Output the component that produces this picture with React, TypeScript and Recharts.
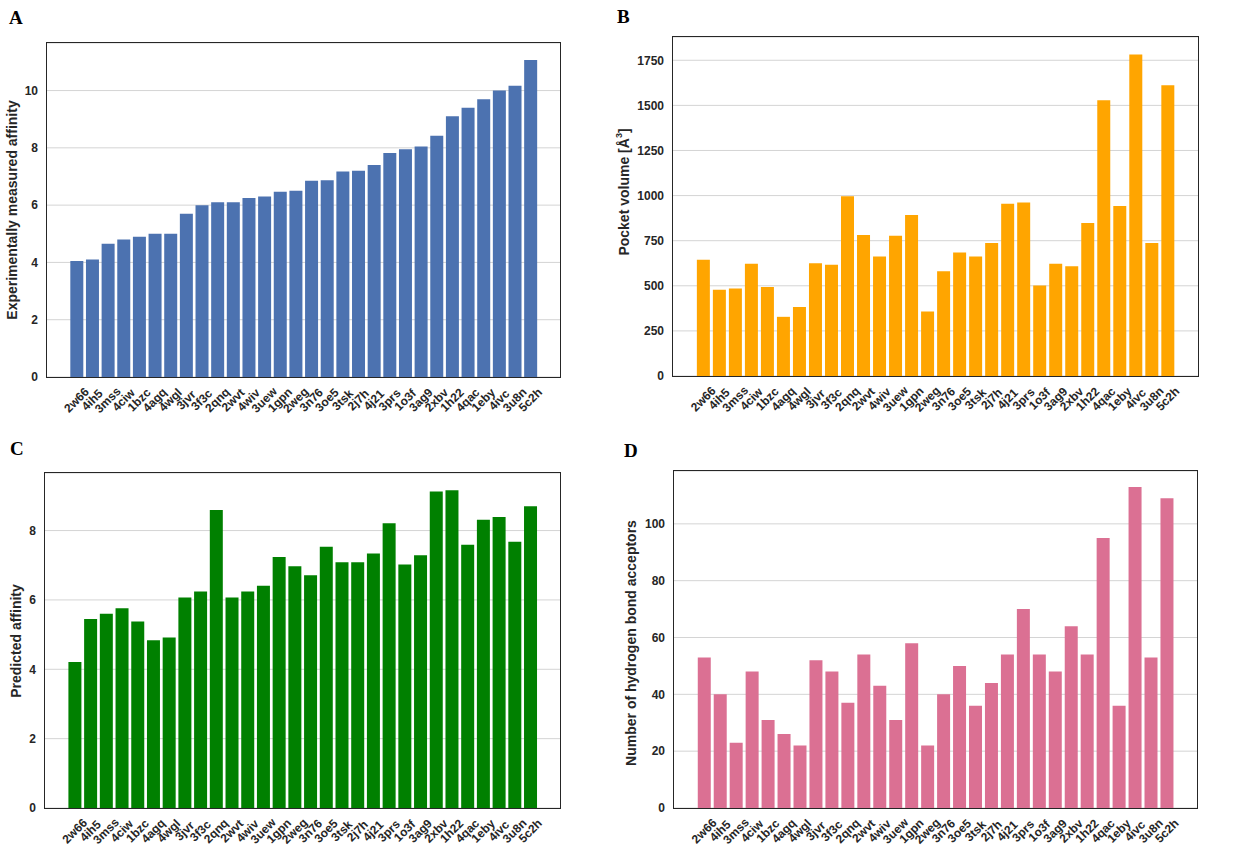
import React from "react";
import { BarChart, Bar, XAxis, YAxis, CartesianGrid } from "recharts";

const pdbIds = [
  "2w66", "4ih5", "3mss", "4ciw", "1bzc", "4agq", "4wgl", "3jvr", "3f3c", "2qnq",
  "2wvt", "4wiv", "3uew", "1gpn", "2weg", "3n76", "3oe5", "3tsk", "2j7h", "4j21",
  "3prs", "1o3f", "3ag9", "2xbv", "1h22", "4qac", "1eby", "4ivc", "3u8n", "5c2h",
];

const measuredAffinity = [
  4.05, 4.1, 4.65, 4.8, 4.9, 5.0, 5.0, 5.7, 6.0, 6.1,
  6.1, 6.25, 6.3, 6.47, 6.5, 6.85, 6.87, 7.17, 7.2, 7.4,
  7.82, 7.95, 8.05, 8.42, 9.1, 9.4, 9.7, 10.0, 10.17, 11.07,
];

const pocketVolume = [
  645, 478, 485, 622, 493, 328, 383, 625, 617, 997,
  782, 662, 777, 893, 358, 580, 685, 662, 737, 955,
  962, 502, 622, 608, 848, 1528, 942, 1782, 737, 1612,
];

const predictedAffinity = [
  4.21, 5.45, 5.6, 5.76, 5.38, 4.84, 4.92, 6.07, 6.24, 8.59,
  6.07, 6.24, 6.41, 7.24, 6.97, 6.71, 7.53, 7.09, 7.09, 7.34,
  8.21, 7.02, 7.29, 9.13, 9.16, 7.59, 8.31, 8.39, 7.68, 8.7,
];

const hbondAcceptors = [
  53, 40, 23, 48, 31, 26, 22, 52, 48, 37,
  54, 43, 31, 58, 22, 40, 50, 36, 44, 54,
  70, 54, 48, 64, 54, 95, 36, 113, 53, 109,
];

const ticksA = [0, 2, 4, 6, 8, 10];
const ticksB = [0, 250, 500, 750, 1000, 1250, 1500, 1750];
const ticksC = [0, 2, 4, 6, 8];
const ticksD = [0, 20, 40, 60, 80, 100];

const data = pdbIds.map((name, i) => ({
  name,
  measured: measuredAffinity[i],
  volume: pocketVolume[i],
  predicted: predictedAffinity[i],
  acceptors: hbondAcceptors[i],
}));

const SANS = "'Liberation Sans', Arial, sans-serif";
const SERIF = "'Liberation Serif', 'Times New Roman', serif";

function RotTick(props: any) {
  const { x, y, payload } = props;
  const cy = y + 23;
  return (
    <text
      x={x}
      y={cy}
      textAnchor="middle"
      dominantBaseline="central"
      transform={`rotate(-45 ${x} ${cy})`}
      fontFamily={SANS}
      fontWeight="bold"
      fontSize={12}
      fill="#262626"
    >
      {payload.value}
    </text>
  );
}

type PanelProps = {
  left: number;
  top: number;
  width: number;
  height: number;
  box: [number, number, number, number]; // x0, y0, x1, y1 in panel coords
  dataKey: string;
  color: string;
  domain: [number, number];
  ticks: number[];
};

function Panel({ left, top, width, height, box, dataKey, color, domain, ticks }: PanelProps) {
  const [x0, y0, x1, y1] = box;
  const plotW = x1 - x0;
  const pad = plotW * 0.0424;
  return (
    <div style={{ position: "absolute", left, top, width, height }}>
      <BarChart
        width={width}
        height={height}
        data={data}
        margin={{ top: y0, right: width - x1, bottom: 0, left: 0 }}
        barCategoryGap="10%"
      >
        <CartesianGrid vertical={false} stroke="#d4d4d4" strokeWidth={1} />
        <XAxis
          dataKey="name"
          interval={0}
          tick={<RotTick />}
          tickLine={false}
          axisLine={false}
          tickSize={0}
          tickMargin={0}
          height={height - y1}
          padding={{ left: pad, right: pad }}
        />
        <YAxis
          type="number"
          domain={domain}
          ticks={ticks}
          width={x0}
          tickLine={false}
          axisLine={false}
          tickSize={0}
          tickMargin={9}
          tick={{ fontFamily: SANS, fontWeight: "bold", fontSize: 12, fill: "#262626" }}
        />
        <Bar dataKey={dataKey} fill={color} isAnimationActive={false} />
      </BarChart>
      <div
        style={{
          position: "absolute",
          left: x0 - 0.75,
          top: y0 - 0.75,
          width: plotW,
          height: y1 - y0,
          border: "1.5px solid #262626",
          pointerEvents: "none",
        }}
      />
    </div>
  );
}

function Labels() {
  const yl = (x: number, y: number, t: React.ReactNode) => (
    <text
      x={x}
      y={y}
      transform={`rotate(-90 ${x} ${y})`}
      textAnchor="middle"
      dominantBaseline="central"
      fontFamily={SANS}
      fontWeight="bold"
      fontSize={14}
      fill="#262626"
    >
      {t}
    </text>
  );
  const letter = (x: number, y: number, t: string) => (
    <text x={x} y={y} fontFamily={SERIF} fontWeight="bold" fontSize={19} fill="#000">
      {t}
    </text>
  );
  return (
    <svg
      width={1235}
      height={850}
      style={{ position: "absolute", left: 0, top: 0, pointerEvents: "none" }}
    >
      {letter(9, 24, "A")}
      {letter(617, 23, "B")}
      {letter(10, 455, "C")}
      {letter(624, 457, "D")}
      {yl(12, 210, "Experimentally measured affinity")}
      {yl(624, 192, <>Pocket volume [Å<tspan baselineShift="super" fontSize={9}>3</tspan>]</>)}
      {yl(16, 641, "Predicted affinity")}
      {yl(631, 643, "Number of hydrogen bond acceptors")}
    </svg>
  );
}

export default function App() {
  return (
    <div
      style={{
        position: "absolute",
        left: 0,
        top: 0,
        width: 1235,
        height: 850,
        background: "#fff",
      }}
    >
      <Panel left={0} top={0} width={600} height={430} box={[47, 43, 560, 377]}
        dataKey="measured" color="#4c72b0" domain={[0, 11.66]} ticks={ticksA} />
      <Panel left={600} top={0} width={635} height={430} box={[73, 37, 598, 376]}
        dataKey="volume" color="#ffa500" domain={[0, 1879]} ticks={ticksB} />
      <Panel left={0} top={430} width={600} height={420} box={[45, 43, 560, 378]}
        dataKey="predicted" color="#008000" domain={[0, 9.66]} ticks={ticksC} />
      <Panel left={600} top={430} width={635} height={420} box={[74, 41, 597, 378]}
        dataKey="acceptors" color="#db7093" domain={[0, 118.6]} ticks={ticksD} />
      <Labels />
    </div>
  );
}
